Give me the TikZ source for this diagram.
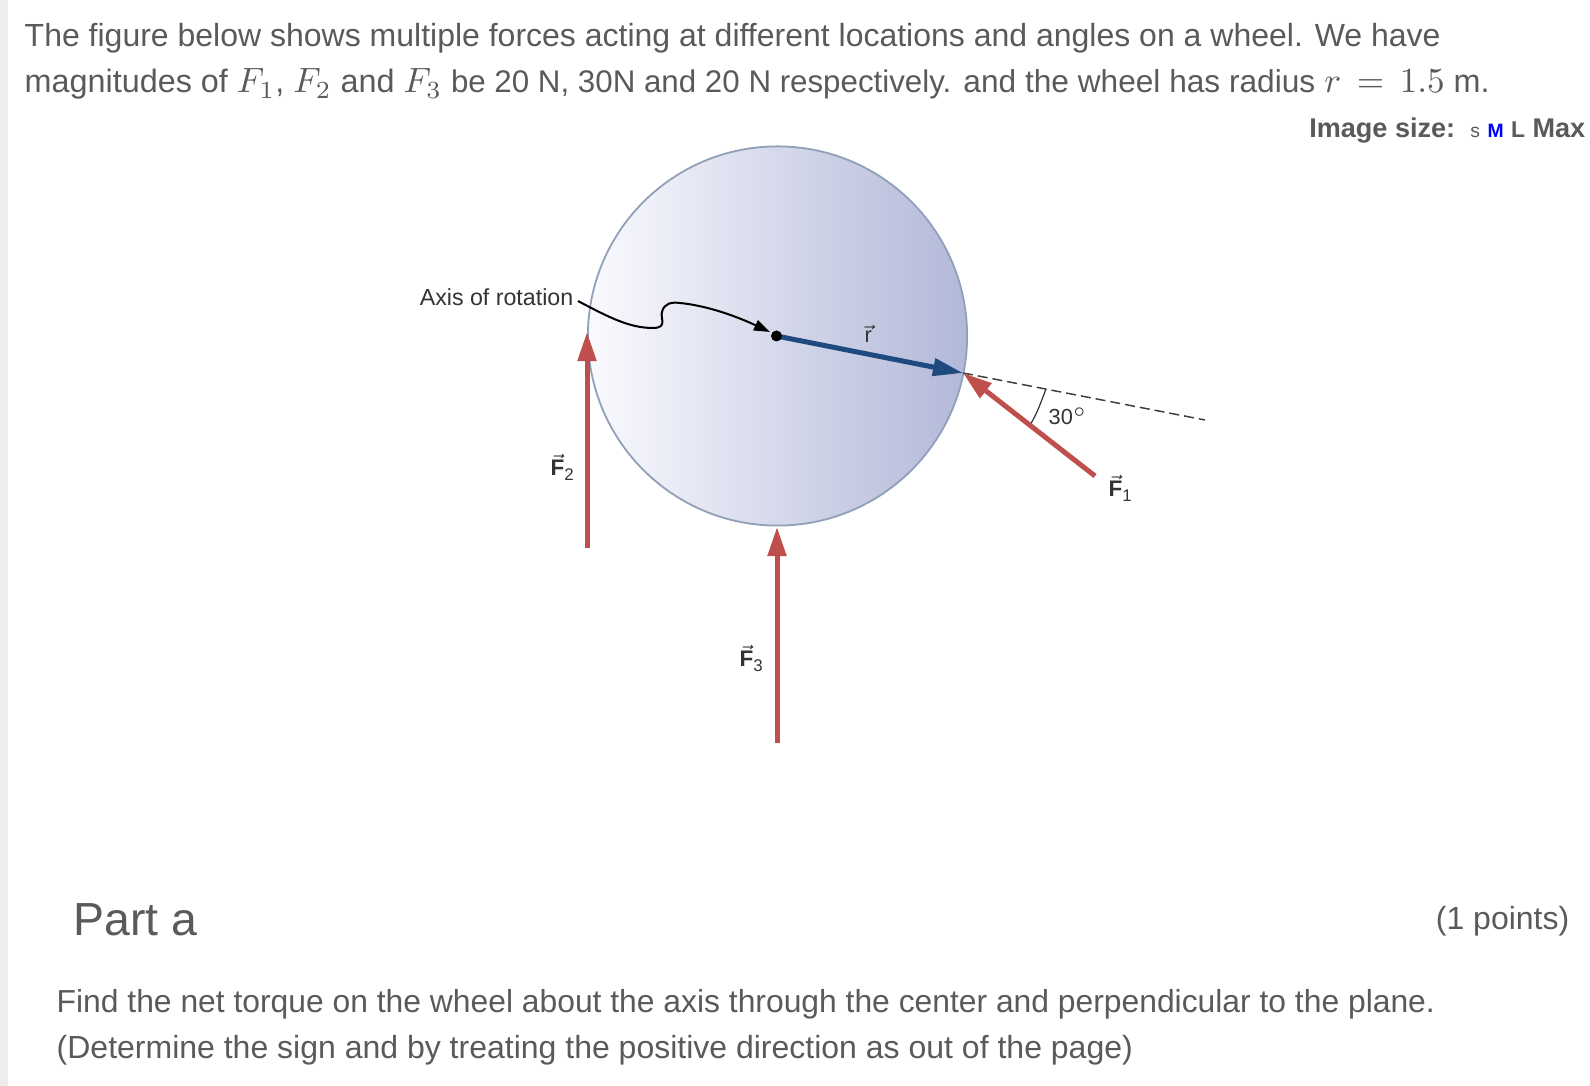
\documentclass[tikz,border=0pt]{standalone}
\usepackage{amsmath}
\usepackage{amssymb}
\usepackage{xcolor}
\usepackage{fontspec}
\setmainfont{Liberation Sans}
\usetikzlibrary{arrows.meta}
\definecolor{textgray}{HTML}{5A5A5A}
\definecolor{forcered}{HTML}{BF4F4C}
\definecolor{radblue}{HTML}{1F4A80}
\definecolor{rimblue}{HTML}{8FA0B8}
\definecolor{wheelleft}{HTML}{FAFAFE}
\definecolor{wheelright}{HTML}{B2B8D8}
\newcommand{\pagefont}{\fontsize{9.1pt}{11pt}\selectfont}
\newcommand{\bigmath}[1]{{\fontsize{10.4pt}{11pt}\selectfont$#1$}}
\newcommand{\forcelabel}[1]{$\vec{\mbox{\fontsize{6.4pt}{7pt}\selectfont\bfseries F}}_{\mbox{\fontsize{4.8pt}{6pt}\selectfont #1}}$}
\tikzset{
  pagetext/.style={anchor=base west,inner sep=0pt,text=textgray,font=\pagefont},
  figtext/.style={anchor=base west,inner sep=0pt,text=black!80,font=\fontsize{6.2pt}{7pt}\selectfont},
  force/.style={draw=forcered,line width=0.05cm,-{Triangle[length=0.29cm,width=0.18cm]}},
  radius vec/.style={draw=radblue,line width=0.05cm,-{Triangle[length=0.3cm,width=0.17cm]}},
}
\begin{document}
\begin{tikzpicture}[x=0.01cm,y=-0.01cm]
\useasboundingbox (0,0) rectangle (1590,1086);
\fill[black!7] (0,0) rectangle (8,1086);
% question text
\node[pagetext] (line1) at (24,47) {The figure below shows multiple forces acting at different locations and angles on a wheel. We have};
\node[pagetext,font=\fontsize{9.2pt}{11pt}\selectfont] (line2) at (24,93) {magnitudes of \bigmath{F_1}, \bigmath{F_2} and \bigmath{F_3} {\fontsize{8.9pt}{11pt}\selectfont be 20 N, 30N and 20 N respectively.} {\fontsize{9pt}{11pt}\selectfont and the wheel has radius} \bigmath{r\,=\,1.5} m.};
\node[pagetext,anchor=base east,font=\fontsize{7.7pt}{9pt}\selectfont\bfseries] (sizes) at (1586,138) {Image size:\ \ {\fontsize{5.5pt}{7pt}\selectfont\mdseries s} {\fontsize{5.5pt}{7pt}\selectfont\color{blue} M} {\fontsize{6.5pt}{7pt}\selectfont L} Max};
% wheel
\node[circle,draw=rimblue,line width=0.018cm,minimum size=3.79cm,inner sep=0pt,left color=wheelleft,right color=wheelright] (wheel) at (777.5,336) {};
\coordinate (hub) at (776.5,336);
\coordinate (rim) at (963,373);
\coordinate (f1tail) at (1095,476);
\coordinate (f2tail) at (587,548);
\coordinate (f2tip) at (587,332);
\coordinate (f3tail) at (777,743);
\coordinate (f3tip) at (777,527);
\coordinate (dashend) at (1205,420);
\coordinate (arcup) at (1046,389);
\coordinate (arcdown) at (1030,425);
% dashed line and angle
\draw[line width=0.015cm,dash pattern=on 0.10cm off 0.05cm,black!75] (rim) -- (dashend);
\draw[line width=0.012cm,black!80] (arcup) .. controls (1041,402) and (1037,414) .. (arcdown);
% forces
\foreach \a/\b in {f1tail/rim,f2tail/f2tip,f3tail/f3tip} {\draw[force] (\a) -- (\b);}
\draw[radius vec] (hub) -- (rim);
\fill[black] (hub) circle (0.055cm);
% axis pointer
\node[figtext,anchor=base east,font=\fontsize{6.6pt}{7pt}\selectfont] (axis) at (574,306) {Axis of rotation};
\draw[black,line width=0.02cm,-{Triangle[length=0.16cm,width=0.11cm]}] (578,301) .. controls (610,318) and (630,328) .. (653,328)
  .. controls (668,328) and (660,318) .. (662,312) .. controls (664,303) and (672,302) .. (680,303)
  .. controls (710,306) and (740,318) .. (770,332);
% labels
\node[figtext] (f1lab) at (1108,497) {\forcelabel{1}};
\node[figtext] (f2lab) at (550,476) {\forcelabel{2}};
\node[figtext] (f3lab) at (739,667) {\forcelabel{3}};
\node[figtext] (rlab) at (864,343) {$\vec{\mbox{r}}$};
\node[figtext] (anglab) at (1048,425) {30\raisebox{0.7ex}{\fontsize{3.6pt}{4pt}\selectfont$\circ$}};
% part a
\node[pagetext,font=\fontsize{13.2pt}{15pt}\selectfont] (parta) at (73,936) {Part a};
\node[pagetext,anchor=base east] (points) at (1570,930) {(1 points)};
\node[pagetext,font=\fontsize{9.05pt}{11pt}\selectfont] (find1) at (56,1013) {Find the net torque on the wheel about the axis through the center and perpendicular to the plane.};
\node[pagetext] (find2) at (56,1059) {(Determine the sign and by treating the positive direction as out of the page)};
\end{tikzpicture}
\end{document}
